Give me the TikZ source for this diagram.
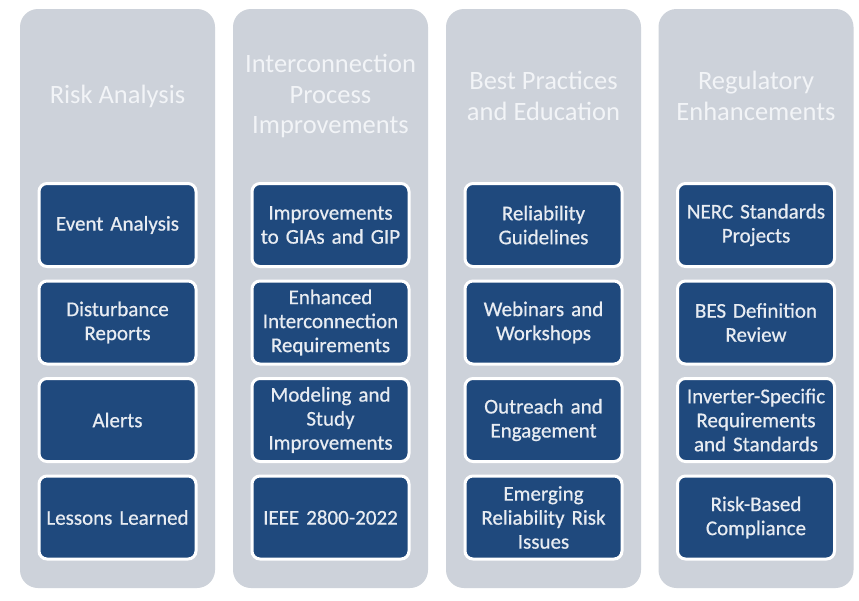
\documentclass[tikz,border=0pt]{standalone}
\usepackage{fontspec}
\setmainfont{Carlito}
\newfontfamily\boxfont[FakeBold=0.6]{Carlito}
\definecolor{colgrey}{RGB}{205,210,218}
\definecolor{boxblue}{RGB}{31,73,125}
\definecolor{headtxt}{RGB}{242,244,247}
\definecolor{boxtxt}{RGB}{232,236,242}
\begin{document}
\begin{tikzpicture}[x=1pt,y=-1pt,
  column/.style={fill=colgrey, draw=none, rounded corners=18pt},
  coltitle/.style={text=headtxt, align=center, font=\fontsize{26.5}{30.5}\selectfont, inner sep=0pt},
  itembox/.style={fill=boxblue, draw=white, line width=3pt, rounded corners=8pt,
    minimum width=157pt, minimum height=83pt, text width=155pt, align=center,
    text=boxtxt, font=\boxfont\fontsize{21}{24}\selectfont, inner sep=0pt}]
\useasboundingbox (0,0) rectangle (859,600);
\fill[white] (0,0) rectangle (859,600);
% columns
\foreach \i/\cx in {1/117.5, 2/330.5, 3/543.5, 4/756}{
  \path[column] (\cx-97.5,9) rectangle (\cx+97.5,588);
}
% titles
\node[coltitle] (t1) at (117.5,96) {Risk Analysis};
\node[coltitle] (t2) at (330.5,96) {Interconnection\\Process\\Improvements};
\node[coltitle] (t3) at (543.5,96) {Best Practices\\and Education};
\node[coltitle] (t4) at (756,96) {Regulatory\\Enhancements};
% column 1
\node[itembox] (a1) at (117.5,225) {Event Analysis};
\node[itembox] (a2) at (117.5,322.5) {Disturbance\\Reports};
\node[itembox] (a3) at (117.5,420) {Alerts};
\node[itembox] (a4) at (117.5,517.5) {Lessons Learned};
% column 2
\node[itembox] (b1) at (330.5,225) {Improvements\\to GIAs and GIP};
\node[itembox] (b2) at (330.5,322.5) {Enhanced\\Interconnection\\Requirements};
\node[itembox] (b3) at (330.5,420) {Modeling and\\Study\\Improvements};
\node[itembox] (b4) at (330.5,517.5) {IEEE 2800-2022};
% column 3
\node[itembox] (c1) at (543.5,225) {Reliability\\Guidelines};
\node[itembox] (c2) at (543.5,322.5) {Webinars and\\Workshops};
\node[itembox] (c3) at (543.5,420) {Outreach and\\Engagement};
\node[itembox] (c4) at (543.5,517.5) {Emerging\\Reliability Risk\\Issues};
% column 4
\node[itembox] (d1) at (756,225) {NERC Standards\\Projects};
\node[itembox] (d2) at (756,322.5) {BES Definition\\Review};
\node[itembox] (d3) at (756,420) {Inverter-Specific\\Requirements\\and Standards};
\node[itembox] (d4) at (756,517.5) {Risk-Based\\Compliance};
\end{tikzpicture}
\end{document}
